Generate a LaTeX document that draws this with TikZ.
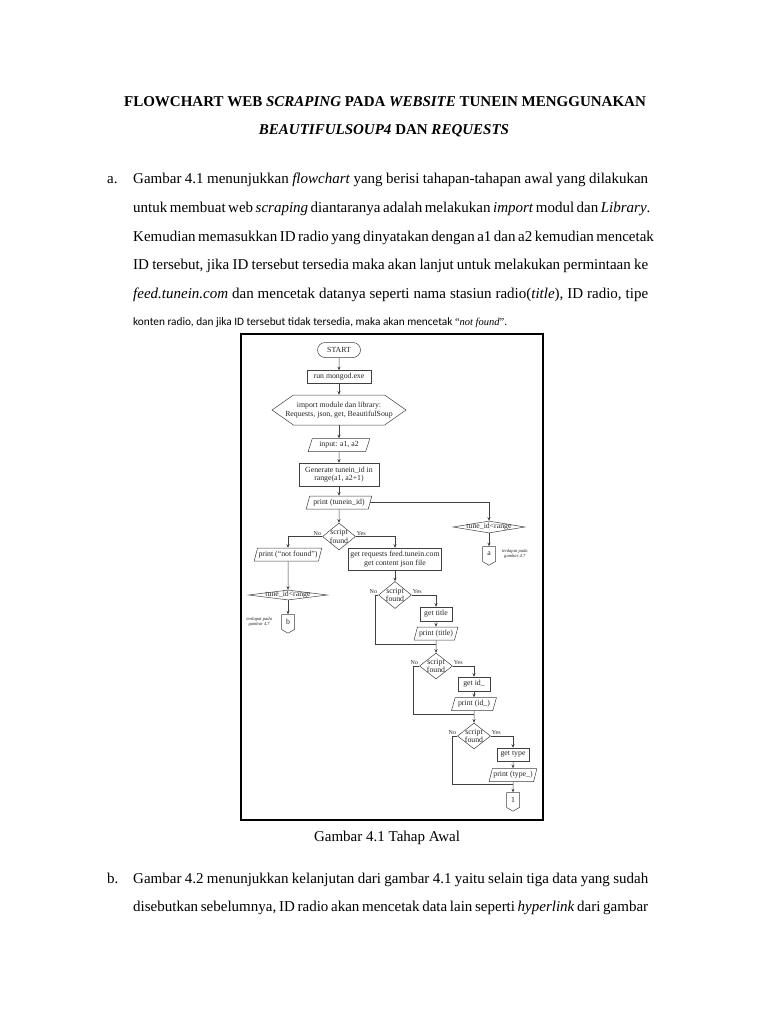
\documentclass[tikz,border=0pt]{standalone}
\usepackage{fontspec}
\setmainfont{Liberation Serif}
\newfontfamily\calfont{Carlito}
\usetikzlibrary{arrows.meta, positioning, calc, shapes.geometric, shapes.misc, shapes.symbols}
\newcommand{\fullline}[1]{\makebox[515pt][s]{#1}}
\newcommand{\flowfont}{\fontsize{7.8}{8.6}\selectfont}

\begin{document}
\begin{tikzpicture}[x=1pt, y=-1pt,
  body/.style={inner sep=0pt, font=\fontsize{15}{18}\selectfont, anchor=base west},
  fc/.style={draw=black!75, line width=0.5pt, font=\flowfont, inner sep=1pt, align=center, text=black!85},
  dtxt/.style={font=\flowfont, align=center, inner sep=0pt, text=black!85},
  term/.style={fc, rounded rectangle, minimum width=45pt, minimum height=15pt},
  proc/.style={fc, rectangle, minimum height=13pt},
  io/.style={fc, trapezium, trapezium left angle=70, trapezium right angle=110, trapezium stretches=true, minimum height=13pt},
  hexa/.style={fc, signal, signal to=east and west, signal pointer angle=70, inner sep=0pt, minimum width=134pt, minimum height=30pt},
  dec/.style={fc, diamond, inner sep=0pt, minimum width=33pt, minimum height=27pt},
  flat/.style={fc, diamond, inner sep=0pt},
  offp/.style={fc, signal, signal to=south, signal pointer angle=120, inner sep=0pt, minimum width=13pt, minimum height=16pt},
  yn/.style={font=\fontsize{6}{7}\selectfont, inner sep=1pt, text=black!85},
  note/.style={font=\fontsize{4.6}{5.5}\selectfont\itshape, align=center, text=black!85, inner sep=0pt},
  arr/.style={-{Stealth[length=3.5pt, width=3pt]}, draw=black!75, line width=0.5pt},
  ln/.style={draw=black!75, line width=0.5pt}
]
\fill[white] (0,0) rectangle (768,1024);
\useasboundingbox (0,0) rectangle (768,1024);

% heading
\node[body, font=\fontsize{15}{18}\selectfont\bfseries, anchor=base] (ttl1) at (385,107) {FLOWCHART WEB \textit{SCRAPING} PADA \textit{WEBSITE} TUNEIN MENGGUNAKAN};
\node[body, font=\fontsize{15}{18}\selectfont\bfseries, anchor=base] (ttl2) at (384,135) {\textit{BEAUTIFULSOUP4} DAN \textit{REQUESTS}};

% paragraph a
\node[body] (ia) at (107,184) {a.};
\node[body] (a1) at (133,184) {\fullline{Gambar 4.1 menunjukkan \textit{flowchart} yang berisi tahapan-tahapan awal yang dilakukan}};
\node[body] (a2) at (133,212.5) {\fullline{untuk membuat web \textit{scraping} diantaranya adalah melakukan \textit{import} modul dan \textit{Library}.}};
\node[body] (a3) at (133,241) {\fullline{Kemudian memasukkan ID radio yang dinyatakan dengan a1 dan a2 kemudian mencetak}};
\node[body] (a4) at (133,269.5) {\fullline{ID tersebut, jika ID tersebut tersedia maka akan lanjut untuk melakukan permintaan ke}};
\node[body] (a5) at (133,298) {\fullline{\textit{feed.tunein.com} dan mencetak datanya seperti nama stasiun radio(\textit{title}), ID radio, tipe}};
\node[body, font=\fontsize{11.3}{14}\selectfont] (a6) at (133,325.5) {\calfont konten radio, dan jika ID tersebut tidak tersedia, maka akan mencetak {\rmfamily\fontsize{10.5}{13}\selectfont “\textit{not found}”}.};

% frame
\draw[line width=2.2pt] (241,334) rectangle (543,820);

% main column
\node[term] (start) at (339,350) {START};
\node[proc, minimum width=64pt] (mongo) at (339,377) {run mongod.exe};
\node[hexa, label={[dtxt]center:import module dan library:\\Requests, json, get, BeautifulSoup}] (lib) at (339,410) {};
\node[io, minimum width=62pt] (inp) at (339,445) {input: a1, a2};
\node[proc, minimum width=80pt, minimum height=23pt] (gen) at (339,474.5) {Generate tunein\_id in\\range(a1, a2+1)};
\node[io, minimum width=66pt] (ptid) at (339,502.5) {print (tunein\_id)};
\node[dec, label={[dtxt]center:script\\found}, label={[yn, anchor=south east]west:No}, label={[yn, anchor=south west]east:Yes}] (chk1) at (339,536.5) {};

% right side
\node[flat, minimum width=72pt, minimum height=12pt, label={[dtxt]center:tune\_id<range}] (rng1) at (489,527) {};
\node[offp] (cona) at (489,554) {a};
\node[note, right=6pt of cona] (nota) {terdapat pada\\gambar 4.7};

% not found branch
\node[io, minimum width=67pt] (pnf) at (288,554.5) {print (“not found”)};
\node[flat, minimum width=79pt, minimum height=10pt, label={[dtxt]center:tune\_id<range}] (rng2) at (288,595) {};
\node[offp] (conb) at (288,622) {b};
\node[note, left=9pt of conb] (notb) {terdapat pada\\gambar 4.7};

% found branch
\node[proc, minimum width=93pt, minimum height=22pt] (req) at (395,559) {get requests feed.tunein.com\\get content json file};
\node[dec, label={[dtxt]center:script\\found}, label={[yn, anchor=south east]west:No}, label={[yn, anchor=south west]east:Yes}] (chk2) at (395,595) {};
\node[proc, minimum width=32pt, minimum height=14pt] (gtitle) at (436,614) {get title};
\node[io, minimum width=44pt] (ptitle) at (436,633.5) {print (title)};
\node[dec, minimum height=26pt, label={[dtxt]center:script\\found}, label={[yn, anchor=south east]west:No}, label={[yn, anchor=south west]east:Yes}] (chk3) at (436,666) {};
\node[proc, minimum width=32pt, minimum height=14pt] (gid) at (474,684) {get id\_};
\node[io, minimum width=45pt] (pid) at (474,704) {print (id\_)};
\node[dec, minimum height=26pt, label={[dtxt]center:script\\found}, label={[yn, anchor=south east]west:No}, label={[yn, anchor=south west]east:Yes}] (chk4) at (474,736) {};
\node[proc, minimum width=32pt] (gtype) at (513,754.5) {get type};
\node[io, minimum width=47pt] (ptype) at (513,775) {print (type\_)};
\node[offp] (con1) at (513,800) {1};

\coordinate (mg2) at (375,644);
\coordinate (mg3) at (413,714);
\coordinate (mg4) at (452,784);

% connectors
\draw[arr] (start) -- (mongo);
\draw[arr] (mongo) -- (lib);
\draw[arr] (lib) -- (inp);
\draw[arr] (inp) -- (gen);
\draw[arr] (gen) -- (ptid);
\draw[arr] (ptid) -- (chk1);
\draw[arr] (ptid.east) -| (rng1);
\draw[arr] (rng1) -- (cona);
\draw[arr] (chk1.west) -| (pnf);
\draw[arr] (pnf) -- (rng2);
\draw[arr] (rng2) -- (conb);
\draw[arr] (chk1.east) -| (req);
\draw[arr] (req) -- (chk2);
\draw[arr] (chk2.east) -| (gtitle);
\draw[arr] (gtitle) -- (ptitle);
\draw[arr] (ptitle) -- (chk3);
\draw[ln] (chk2.west) -| (mg2) -- (mg2 -| chk3.north);
\draw[arr] (chk3.east) -| (gid);
\draw[arr] (gid) -- (pid);
\draw[arr] (pid) -- (chk4);
\draw[ln] (chk3.west) -| (mg3) -- (mg3 -| chk4.north);
\draw[arr] (chk4.east) -| (gtype);
\draw[arr] (gtype) -- (ptype);
\draw[arr] (ptype) -- (con1);
\draw[ln] (chk4.west) -| (mg4) -- (mg4 -| con1.north);

% caption and paragraph b
\node[body, anchor=base] (cap) at (387,841) {Gambar 4.1 Tahap Awal};
\node[body] (ib) at (107,883) {b.};
\node[body] (b1) at (133,883) {\fullline{Gambar 4.2 menunjukkan kelanjutan dari gambar 4.1 yaitu selain tiga data yang sudah}};
\node[body] (b2) at (133,911) {\fullline{disebutkan sebelumnya, ID radio akan mencetak data lain seperti \textit{hyperlink} dari gambar}};
\end{tikzpicture}
\end{document}
